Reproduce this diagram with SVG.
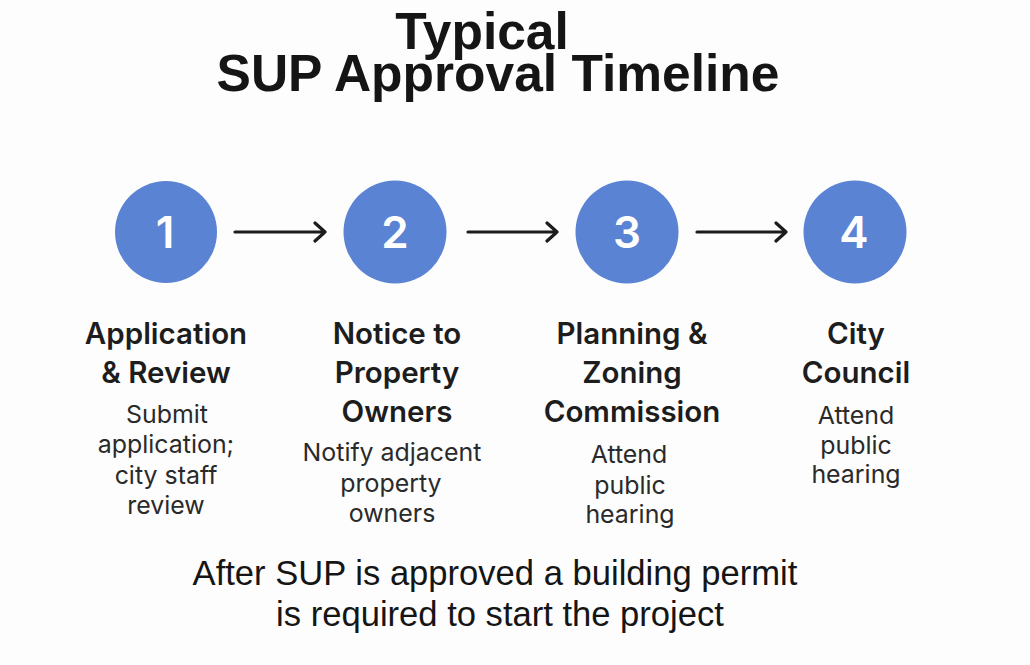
<svg xmlns="http://www.w3.org/2000/svg" width="1030" height="665" viewBox="0 0 1030 665">
<style>
.t{font-family:"Liberation Sans",Arial,sans-serif;fill:#151515;text-anchor:middle}
.title{font-size:51.500px;font-weight:700}
.h{font-family:Inter,"Open Sans",sans-serif;font-size:29.500px;font-weight:600;fill:#1d1d1d;text-anchor:middle}
.b{font-family:Inter,"Open Sans",sans-serif;font-size:24.900px;font-weight:400;fill:#2a2a2a;text-anchor:middle}
.f{font-size:34.600px}
.n{font-family:Inter,"Open Sans",sans-serif;font-size:44px;font-weight:600;fill:#fff;text-anchor:middle}
.c{fill:#5a83d4}
.a{fill:none;stroke:#1c1c1c;stroke-width:3.200;stroke-linecap:round;stroke-linejoin:round}
</style>
<rect width="1030" height="665" fill="#fdfdfd"/>
<g id="title"><text class="t title" x="482" y="49">Typical</text><text class="t title" x="498" y="91">SUP Approval Timeline</text></g>
<g id="connectors">
<path class="a" d="M235 232H325M315 223L325 232L315 241"/>
<path class="a" d="M468 232H557M547 223L557 232L547 241"/>
<path class="a" d="M697 232H786M776 223L786 232L776 241"/>
</g>
<g id="node1"><circle class="c" cx="166" cy="232" r="51"/><text class="n" x="165" y="248">1</text>
<text class="h" x="166" y="344">Application</text><text class="h" x="166" y="383">&amp; Review</text>
<text class="b" x="167" y="423">Submit</text><text class="b" x="166" y="453">application;</text><text class="b" x="166" y="484">city staff</text><text class="b" x="166" y="514">review</text></g>
<g id="node2"><circle class="c" cx="395" cy="232" r="51.500"/><text class="n" x="395" y="248">2</text>
<text class="h" x="397" y="344">Notice to</text><text class="h" x="397" y="383">Property</text><text class="h" x="397" y="422">Owners</text>
<text class="b" x="392" y="461">Notify adjacent</text><text class="b" x="391" y="492">property</text><text class="b" x="392" y="522">owners</text></g>
<g id="node3"><circle class="c" cx="627" cy="232" r="51.500"/><text class="n" x="627" y="248">3</text>
<text class="h" x="632" y="344">Planning &amp;</text><text class="h" x="632" y="383">Zoning</text><text class="h" x="632" y="422">Commission</text>
<text class="b" x="629" y="463">Attend</text><text class="b" x="630" y="494">public</text><text class="b" x="630" y="523">hearing</text></g>
<g id="node4"><circle class="c" cx="855" cy="232" r="51.500"/><text class="n" x="854" y="248">4</text>
<text class="h" x="856" y="344">City</text><text class="h" x="856" y="383">Council</text>
<text class="b" x="856" y="424">Attend</text><text class="b" x="856" y="454">public</text><text class="b" x="856" y="483">hearing</text></g>
<g id="footer"><text class="t f" x="495" y="584.500">After SUP is approved a building permit</text><text class="t f" x="500" y="625.500">is required to start the project</text></g>
</svg>
